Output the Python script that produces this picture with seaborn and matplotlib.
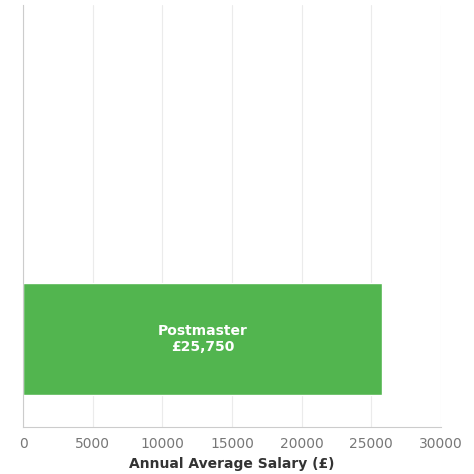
import matplotlib
matplotlib.use("Agg")
import matplotlib.pyplot as plt
import seaborn as sns
import pandas as pd

jobs = ["Role A", "Role B", "Role C", "Role D", "Postmaster"]
salaries = [12, 12, 10, 10, 25750]
colors = ["#b5b86a", "#a8b060", "#7aa6d6", "#7aa6d6", "#52b54f"]
bar_heights = [0.65, 0.85, 0.83, 0.63, 1.6]

df = pd.DataFrame({"job": jobs, "salary": salaries})
sns.set_style("white")
fig, ax = plt.subplots(figsize=(4.74, 4.74), dpi=100)
fig.subplots_adjust(left=0.049, right=0.93, top=0.989, bottom=0.099)
ax.barh(range(len(jobs)), df["salary"], height=bar_heights, color=colors)
ax.set_ylim(5.26, -0.77)
ax.set_xlim(0, 30000)
ax.set_xticks(range(0, 30001, 5000))
ax.xaxis.grid(True, color="#ebebeb", lw=0.8)
ax.set_axisbelow(True)
ax.set_yticks([])
ax.set_ylabel("")
ax.set_xlabel("Annual Average Salary (£)", fontsize=10, fontweight="bold", color="#333333")
ax.tick_params(axis="x", colors="#777777", labelsize=10, length=4)
for s in ["top", "right"]:
    ax.spines[s].set_visible(False)
for s in ["left", "bottom"]:
    ax.spines[s].set_color("#cccccc")
ax.text(salaries[-1] / 2, 4, f"{jobs[-1]}\n£{salaries[-1]:,}", ha="center", va="center",
        color="white", fontsize=10, fontweight="bold")
fig.savefig("out.png", dpi=100)
